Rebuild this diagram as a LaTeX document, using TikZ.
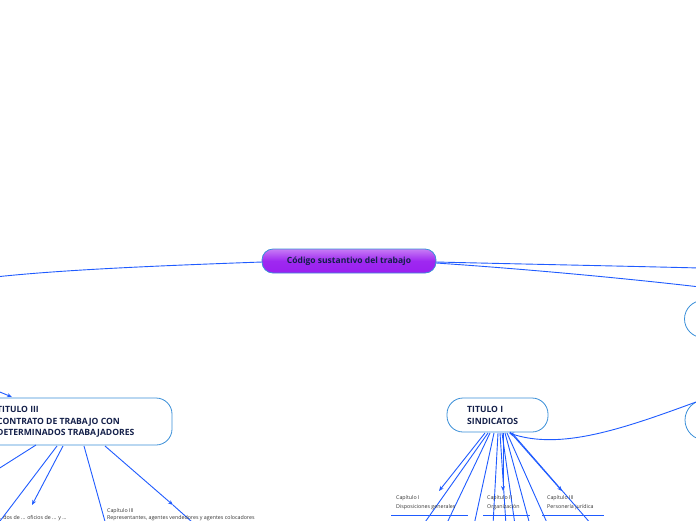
\documentclass[tikz,border=0pt]{standalone}
\usepackage{fontspec}
\setmainfont{Open Sans}
\usetikzlibrary{arrows.meta}
\definecolor{lk}{HTML}{1F5BFF}
\definecolor{bd}{HTML}{3A8FD8}
\definecolor{tx}{HTML}{14204A}
\definecolor{ptop}{HTML}{C77CF5}
\definecolor{pbot}{HTML}{9A1FF0}
\tikzset{lnk/.style={draw=lk,line width=0.9pt},
 arr/.style={lnk,-{Stealth[length=5pt,width=4pt]}},
 topic/.style={draw=bd,line width=0.8pt,rounded corners=14pt,fill=white},
 small/.style={font=\fontsize{5.3}{7}\selectfont,text=black!80,align=left,anchor=west,inner sep=0}}
\begin{document}
\begin{tikzpicture}[x=1pt,y=-1pt]
\useasboundingbox (0,0) rectangle (696,520);
\clip (0,0) rectangle (696,520);
\coordinate (L) at (-5,277);
\coordinate (R1) at (700,268);
\coordinate (R2) at (700,287);
\draw[lnk] (262,262) .. controls (150,266) and (60,270) .. (L);
\draw[lnk] (436,262) .. controls (520,264) and (620,266) .. (R1);
\draw[lnk] (436,263) .. controls (540,270) and (640,280) .. (R2);
\node[draw=bd,line width=0.8pt,rounded corners=11pt,top color=ptop,bottom color=pbot,middle color=pbot!90!ptop,minimum width=174pt,minimum height=24pt,font=\bfseries\fontsize{8.5}{10}\selectfont,text=tx] (c) at (349,261) {Código sustantivo del trabajo};
% right partial nodes
\draw[draw=bd,line width=0.8pt] (703,337.5) arc (90:270:18.5);
\draw[draw=bd,line width=0.8pt] (705,440) arc (90:270:20);
% TITULO III
\draw[topic,rounded corners=16pt] (-20,398) rectangle (172,445);
\node[anchor=west,align=left,font=\bfseries\fontsize{8.6}{11.5}\selectfont,text=tx,inner sep=0] (t3) at (-3,422) {TITULO III\\CONTRATO DE TRABAJO CON\\DETERMINADOS TRABAJADORES};
\draw[arr] (-5,390) -- (12,397);
\draw[lnk] (36,445) -- (-5,471);
\draw[lnk] (57,446) -- (-3,525);
\draw[arr] (63,446) -- (32,505);
\draw[lnk] (84,446) -- (106,525);
\draw[arr] (105,446) -- (173,505);
\draw[lnk] (173,505) -- (192,522);
\node[small] (k3) at (107,511) {Capítulo III};
\node[small] at (107,518.5) {Representantes, agentes vendedores y agentes colocadores};
\node[small] at (-3,518.5) {... dos de ... oficios de ... y ...};
% TITULO I
\draw[topic,rounded corners=16pt] (447,398) rectangle (548,432);
\node[anchor=west,align=left,font=\bfseries\fontsize{8.6}{11.5}\selectfont,text=tx,inner sep=0] (t1) at (467,415.5) {TITULO I\\SINDICATOS};
\draw[arr] (696,402) .. controls (620,430) and (560,450) .. (509,433);
\draw[arr] (485,433) -- (439,491);
\draw[arr] (503,433) -- (503,491);
\draw[arr] (510,432) -- (562,491);
\foreach \a/\b in {488/423,490/446,494/474,498/493,500/506,502/515,505/530,507/548,512/592}
  \draw[lnk] (\a,433) -- (\b,525);
\node[small] (k1) at (396,498) {Capítulo I};
\node[small] at (396,507.5) {Disposiciones generales};
\draw[lnk,line width=1pt] (391,515) -- (468,515);
\node[small] (k2) at (487,498) {Capítulo II};
\node[small] at (487,507.5) {Organización};
\draw[lnk,line width=1pt] (483,515) -- (530,515);
\node[small] (k4) at (547,498) {Capítulo III};
\node[small] at (547,507.5) {Personería jurídica};
\draw[lnk,line width=1pt] (542,515) -- (604,515);
\end{tikzpicture}
\end{document}
